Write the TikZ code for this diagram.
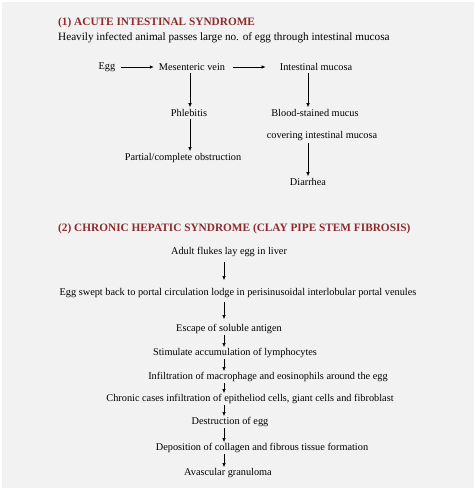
\documentclass[tikz,border=0pt]{standalone}
\usepackage{fontspec}
\setmainfont{Liberation Serif}
\usetikzlibrary{arrows.meta}
\definecolor{panel}{HTML}{F2F2F2}
\definecolor{headred}{HTML}{8C2B2B}
\begin{document}
\begin{tikzpicture}[x=1pt,y=-1pt,font=\fontsize{10.3}{12}\selectfont,
	txt/.style={inner sep=1pt},
	head/.style={anchor=west,inner sep=0pt,text=headred,font=\fontsize{11.3}{13}\selectfont\bfseries},
	flow/.style={-{Latex[length=4pt,width=3.5pt]},line width=0.6pt,shorten >=1pt,shorten <=1pt}]
	\useasboundingbox (0,0) rectangle (474,492);
	\fill[white] (0,0) rectangle (474,492);
	\fill[panel] (2,2) rectangle (474,488);
	% acute part
	\node (T1) at (58,23)	[head]	{(1) ACUTE INTESTINAL SYNDROME};
	\node (S1) at (58,38)	[txt, anchor=west, inner sep=0pt, font=\fontsize{11.2}{13}\selectfont]	{Heavily infected animal passes large no. of egg through intestinal mucosa};
	\node (E) at (107,67)	[txt]	{Egg};
	\node (MV) at (192,67)	[txt]	{Mesenteric vein};
	\node (IM) at (316,67)	[txt]	{Intestinal mucosa};
	\node (Ph) at (189,113)	[txt]	{Phlebitis};
	\node (PO) at (183,158)	[txt]	{Partial/complete obstruction};
	\node (BM) at (315,113)	[txt]	{Blood-stained mucus};
	\node (CM) at (322,136)	[txt]	{covering intestinal mucosa};
	\node (Di) at (308,182)	[txt]	{Diarrhea};
	\coordinate (lft) at (190,0);
	\coordinate (rgt) at (308,0);
	\draw[flow, shorten <=5pt, shorten >=4pt] (E) -- (MV);
	\draw[flow, shorten <=7pt, shorten >=13pt] (MV) -- (IM);
	\draw[flow] (MV.south -| lft) -- (Ph.north -| lft);
	\draw[flow] (Ph.south -| lft) -- (PO.north -| lft);
	\draw[flow] (IM.south -| rgt) -- (BM.north -| rgt);
	\draw[flow] (CM.south -| rgt) -- (Di.north -| rgt);
	% chronic part
	\node (T2) at (58,229)	[head]	{(2) CHRONIC HEPATIC SYNDROME (CLAY PIPE STEM FIBROSIS)};
	\node (C1) at (229,252)	[txt]	{Adult flukes lay egg in liver};
	\node (C2) at (238,293)	[txt]	{Egg swept back to portal circulation lodge in perisinusoidal interlobular portal venules};
	\node (C3) at (229,329)	[txt]	{Escape of soluble antigen};
	\node (C4) at (235,353)	[txt]	{Stimulate accumulation of lymphocytes};
	\node (C5) at (268,377)	[txt]	{Infiltration of macrophage and eosinophils around the egg};
	\node (C6) at (250,399)	[txt]	{Chronic cases infiltration of epitheliod cells, giant cells and fibroblast};
	\node (C7) at (230,422)	[txt]	{Destruction of egg};
	\node (C8) at (262,448)	[txt]	{Deposition of collagen and fibrous tissue formation};
	\node (C9) at (228,473)	[txt]	{Avascular granuloma};
	\coordinate (spine) at (224,0);
	\draw[flow, shorten <=4pt, shorten >=7pt] (C1.south -| spine) -- (C2.north -| spine);
	\draw[flow, shorten <=3pt, shorten >=4pt] (C2.south -| spine) -- (C3.north -| spine);
	\foreach \a/\b in {C3/C4, C4/C5, C5/C6, C6/C7, C7/C8, C8/C9}
		\draw[flow, shorten <=0pt, shorten >=0pt] (\a.south -| spine) -- (\b.north -| spine);
\end{tikzpicture}
\end{document}
